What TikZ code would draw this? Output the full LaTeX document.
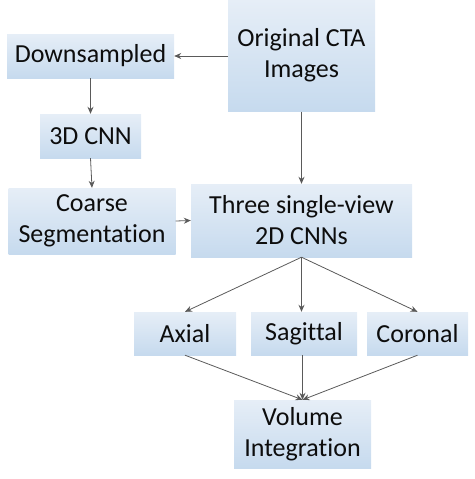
\documentclass[tikz,border=0pt]{standalone}
\usepackage{fontspec}
\setmainfont{Carlito}[Ligatures=NoCommon]
\usetikzlibrary{arrows.meta}
\definecolor{boxtop}{HTML}{E6EEF7}
\definecolor{boxbot}{HTML}{C6DAEE}
\definecolor{arrowgray}{HTML}{5A5A5A}

\begin{document}
\begin{tikzpicture}[x=1pt, y=-1pt,
      every node/.append style={font=\fontsize{26}{31}\selectfont, align=center, text=black!95},
      ->, >={Stealth[length=7pt,width=6pt]}]
    \tikzstyle{stage} = [top color=boxtop, bottom color=boxbot, inner sep=0pt]
    \tikzstyle{flow} = [draw=arrowgray, line width=0.8pt]
    \useasboundingbox (0,0) rectangle (474,479);
    \node (orig) [stage, minimum width=147pt, minimum height=112pt] at (301.5,55.5) {Original CTA\\Images};
    \node (down) [stage, minimum width=167pt, minimum height=44pt] at (90.5,56) {Downsampled};
    \node (cnn3d) [stage, minimum width=101pt, minimum height=44pt] at (90.5,136) {3D CNN};
    \node (coarse) [stage, minimum width=167pt, minimum height=66pt] at (92,221) {Coarse\\Segmentation};
    \node (three) [stage, minimum width=221pt, minimum height=73pt] at (301.5,220.5) {Three single-view\\2D CNNs};
    \node (axial) [stage, minimum width=102pt, minimum height=43pt] at (185,333.5) {Axial};
    \node (sagittal) [stage, minimum width=106pt, minimum height=43pt] at (304,333.5) {Sagittal};
    \node (coronal) [stage, minimum width=101pt, minimum height=43pt] at (417.5,333.5) {Coronal};
    \node (volume) [stage, minimum width=137pt, minimum height=68pt] at (302.5,434) {Volume\\Integration};
    % connectors
    \draw [flow] (orig.west |- down.east) -- (down.east);
    \draw [flow] (down.south) -- (cnn3d.north);
    \draw [flow] (cnn3d.south) -- (coarse.north);
    \draw [flow] (coarse.east) -- (three.west);
    \draw [flow] (orig.south) -- (three.north);
    \draw [flow] (three.south) -- (axial.north);
    \draw [flow] (three.south) -- (sagittal.north -| three.south);
    \draw [flow] (three.south) -- (coronal.north);
    \draw [flow] (axial.south) -- (volume.north);
    \draw [flow] (sagittal.south -| volume.north) -- (volume.north);
    \draw [flow] (coronal.south) -- (volume.north);
\end{tikzpicture}
\end{document}
